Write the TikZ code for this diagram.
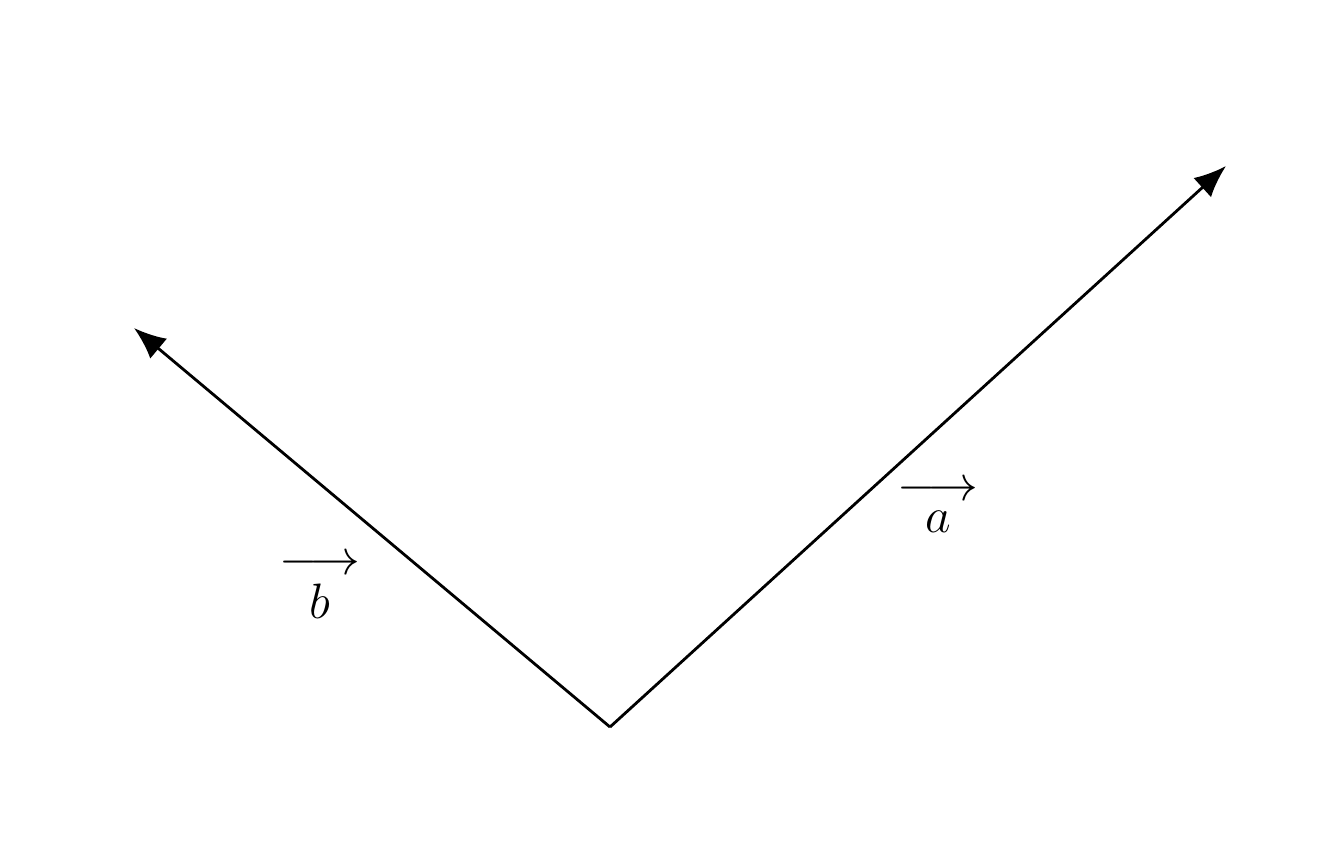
\documentclass[tikz,border=0pt]{standalone}
\usepackage{amsmath}
\usetikzlibrary{arrows.meta}
\begin{document}
\begin{tikzpicture}[x=0.5pt,y=-0.5pt,
  vec/.style={line width=1.4pt,-{Latex[length=16pt,width=13pt]}},
  lbl/.style={font=\fontsize{34}{40}\selectfont}]
\useasboundingbox (0,0) rectangle (1326,847);
\coordinate (O) at (610,727);
\coordinate (A) at (1226,166);
\coordinate (B) at (134,328);
\draw[vec] (O) -- (A);
\draw[vec] (O) -- (B);
\node[lbl] (la) at (938,505) {$\overset{\longrightarrow}{a}$};
\node[lbl] (lb) at (320,585) {$\overset{\longrightarrow}{b}$};
\end{tikzpicture}
\end{document}
